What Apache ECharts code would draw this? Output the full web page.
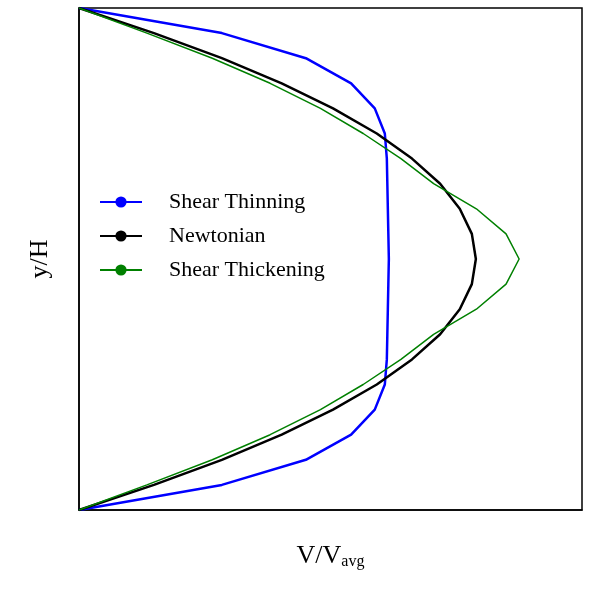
<!DOCTYPE html>
<html><head><meta charset="utf-8">
<script src="https://cdn.jsdelivr.net/npm/echarts@6/dist/echarts.min.js"></script>
<style>html,body{margin:0;padding:0;background:#fff}#c{width:590px;height:590px}</style>
</head><body><div id="c"></div>
<script>
const yFrac=[0,0.05,0.1,0.15,0.2,0.25,0.3,0.35,0.4,0.45,0.5,0.55,0.6,0.65,0.7,0.75,0.8,0.85,0.9,0.95,1];
const thinning=[0,0.284,0.451,0.541,0.588,0.608,0.612,0.613,0.614,0.615,0.616,0.615,0.614,0.613,0.612,0.608,0.588,0.541,0.451,0.284,0];
const newtonian=[0,0.149,0.284,0.403,0.505,0.592,0.662,0.718,0.757,0.781,0.789,0.781,0.757,0.718,0.662,0.592,0.505,0.403,0.284,0.149,0];
const thickening=[0,0.135,0.265,0.38,0.48,0.565,0.64,0.705,0.79,0.849,0.875,0.849,0.79,0.705,0.64,0.565,0.48,0.38,0.265,0.135,0];
const names=['Shear Thinning','Newtonian','Shear Thickening'];
const colors=['#0000ff','#000000','#008000'];
const widths=[2.5,2.5,1.5];
const sets=[thinning,newtonian,thickening];
const ch=echarts.init(document.getElementById('c'));
ch.setOption({
 animation:false,
 grid:{left:79,right:8,top:8,bottom:80},
 legend:{orient:'vertical',left:94,top:186,itemWidth:42,itemHeight:14,itemGap:12,
  data:names,
  textStyle:{fontFamily:'Liberation Serif',fontSize:22,color:'#000',padding:[0,0,0,22]}},
 xAxis:{type:'value',min:0,max:1,axisTick:{show:false},axisLabel:{show:false},splitLine:{show:false},
  axisLine:{lineStyle:{color:'#000',width:1.5}},
  name:'{a|V/V}{b|avg}',nameLocation:'middle',nameGap:32,
  nameTextStyle:{rich:{a:{fontFamily:'Liberation Serif',fontSize:26,color:'#000'},b:{fontFamily:'Liberation Serif',fontSize:16,color:'#000',verticalAlign:'bottom',padding:[12,0,0,0]}}}},
 yAxis:{type:'value',min:0,max:1,axisTick:{show:false},axisLabel:{show:false},splitLine:{show:false},
  axisLine:{lineStyle:{color:'#000',width:1.5}},
  name:'y/H',nameLocation:'middle',nameGap:26,nameRotate:90,
  nameTextStyle:{fontFamily:'Liberation Serif',fontSize:26,color:'#000'}},
 graphic:[{type:'rect',shape:{x:79,y:8,width:503,height:502},style:{fill:'none',stroke:'#000',lineWidth:1.5},silent:true}],
 series:sets.map((d,i)=>({name:names[i],type:'line',symbol:'none',
  data:d.map((v,j)=>[v,yFrac[j]]),lineStyle:{color:colors[i],width:widths[i]},itemStyle:{color:colors[i]}}))
});
</script></body></html>
